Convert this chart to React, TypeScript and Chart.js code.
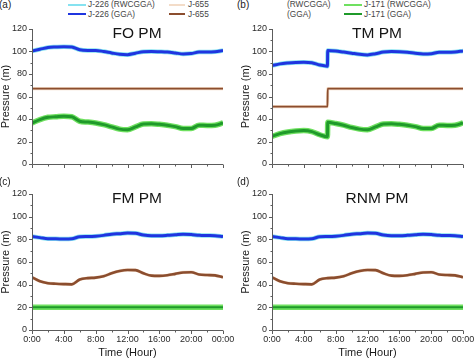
import React, { useEffect, useRef } from 'react';
import { Chart, registerables } from 'chart.js';

Chart.register(...registerables);

// ---------- data ----------
const HOURS = [0, 1, 2, 3, 4, 5, 6, 7, 8, 9, 10, 11, 12, 13, 14, 15, 16, 17, 18, 19, 20, 21, 22, 23, 24];
const HOURS_TM = [0, 1, 2, 3, 4, 5, 6, 6.97, 7, 8, 9, 10, 11, 12, 13, 14, 15, 16, 17, 18, 19, 20, 21, 22, 23, 24];

// (a) FO PM
const FO_J226 = [100.5, 102, 103.5, 104, 104.3, 104, 101.5, 101, 101, 100, 98.7, 97.5, 97.2, 98.5, 99.8, 100, 99.8, 99.5, 98.7, 97.8, 98.2, 99.5, 99.5, 99.8, 100.8];
const FO_J655 = [67, 67, 67, 67, 67, 67, 67, 67, 67, 67, 67, 67, 67, 67, 67, 67, 67, 67, 67, 67, 67, 67, 67, 67, 67];
const FO_J171 = [36.5, 39.5, 41.5, 42, 42.5, 42, 38, 37.3, 36.5, 35, 33, 31, 30.5, 33, 35.5, 35.8, 35.3, 34.5, 33.2, 31.5, 31.5, 34.5, 34.3, 34.5, 36.5];

// (b) TM PM
const TM_J226 = [87.5, 89, 89.8, 90.3, 90.5, 90, 88, 87, 101, 100.5, 99.5, 98.5, 97.5, 97, 98, 99.5, 100, 99.8, 99.3, 98.5, 97.8, 98, 99.3, 99.3, 99.6, 100.5];
const TM_J655 = [51, 51, 51, 51, 51, 51, 51, 51, 67, 67, 67, 67, 67, 67, 67, 67, 67, 67, 67, 67, 67, 67, 67, 67, 67, 67];
const TM_J171 = [24.5, 27, 28.5, 29.3, 29.7, 28.8, 26, 24.3, 37, 36, 34.5, 32.5, 31, 30.5, 33, 35.5, 35.8, 35.3, 34.5, 33.2, 31.5, 31.5, 34.5, 34.3, 34.5, 36.5];

// (c) FM PM
const FM_J226 = [82.5, 81.5, 80.5, 80.5, 80.3, 80.5, 82.3, 82.5, 82.8, 83.5, 84.5, 85, 85.5, 85.3, 83.8, 83.2, 83.2, 83.5, 84, 84.5, 84.3, 83.5, 83.3, 83.2, 82.5];
const FM_J655 = [46.5, 43, 41.3, 40.8, 40.5, 40.3, 44.5, 45.8, 46.2, 47.5, 50, 52, 53, 52.8, 50, 48, 47.8, 48.3, 49.5, 50.8, 51, 49, 48.5, 48.2, 46.5];
const FM_J171 = [20, 20, 20, 20, 20, 20, 20, 20, 20, 20, 20, 20, 20, 20, 20, 20, 20, 20, 20, 20, 20, 20, 20, 20, 20];

// (d) RNM PM
const RNM_J226 = [82.5, 81.5, 80.5, 80.5, 80.3, 80.5, 82.3, 82.5, 82.8, 83.5, 84.5, 85, 85.5, 85.3, 83.8, 83.2, 83.2, 83.5, 84, 84.5, 84.3, 83.5, 83.3, 83.2, 82.5];
const RNM_J655 = [46.5, 43, 41.3, 40.8, 40.5, 40.3, 44.5, 45.8, 46.2, 47.5, 50, 52, 53, 52.8, 50, 48, 47.8, 48.3, 49.5, 50.8, 51, 49, 48.5, 48.2, 46.5];
const RNM_J171 = [20, 20, 20, 20, 20, 20, 20, 20, 20, 20, 20, 20, 20, 20, 20, 20, 20, 20, 20, 20, 20, 20, 20, 20, 20];

// ticks
const Y_TICKS = [0, 20, 40, 60, 80, 100, 120];
const Y_MINOR = [10, 30, 50, 70, 90, 110];
const X_TICKS = [0, 4, 8, 12, 16, 20, 24];
const X_MINOR = [2, 6, 10, 14, 18, 22];
const X_TICK_LABELS = ['0:00', '4:00', '8:00', '12:00', '16:00', '20:00', '00:00'];

// ---------- style ----------
const FONT = "'Liberation Sans', Arial, Helvetica, sans-serif";
const TEXT = '#2a2a2a';
const AXIS = '#5c5c5c';
const C_CYAN = '#86e2f0';
const C_BLUE = '#1f35e0';
const C_PEACH = '#f3dcc8';
const C_BROWN = '#8b4d2e';
const C_LGREEN = '#6fe060';
const C_DGREEN = '#1f9a2a';

const axesPlugin = {
  id: 'axesDraw',
  afterDatasetsDraw(chart: any) {
    const { ctx, chartArea: a, scales } = chart;
    const xs = scales.x;
    const ys = scales.y;
    const L = Math.round(a.left) + 0.5;
    const B = Math.round(a.bottom) + 0.5;
    ctx.save();
    ctx.strokeStyle = AXIS;
    ctx.lineWidth = 1;
    ctx.beginPath();
    ctx.moveTo(L, a.top);
    ctx.lineTo(L, B);
    ctx.lineTo(a.right, B);
    Y_TICKS.forEach((v) => {
      const p = Math.round(ys.getPixelForValue(v)) + 0.5;
      ctx.moveTo(L - 3.5, p);
      ctx.lineTo(L, p);
    });
    Y_MINOR.forEach((v) => {
      const p = Math.round(ys.getPixelForValue(v)) + 0.5;
      ctx.moveTo(L - 2, p);
      ctx.lineTo(L, p);
    });
    X_TICKS.forEach((v) => {
      const p = Math.round(xs.getPixelForValue(v)) + 0.5;
      ctx.moveTo(p, B);
      ctx.lineTo(p, B + 3.5);
    });
    X_MINOR.forEach((v) => {
      const p = Math.round(xs.getPixelForValue(v)) + 0.5;
      ctx.moveTo(p, B);
      ctx.lineTo(p, B + 2);
    });
    ctx.stroke();
    ctx.restore();
  },
};

const panelTitlePlugin = {
  id: 'panelTitle',
  afterDraw(chart: any, _args: any, opts: any) {
    if (!opts || !opts.text) return;
    const { ctx, chartArea: a } = chart;
    ctx.save();
    ctx.font = `15.5px ${FONT}`;
    ctx.fillStyle = '#151515';
    ctx.textAlign = 'center';
    ctx.textBaseline = 'middle';
    ctx.fillText(opts.text, a.left + (a.right - a.left) * 0.55, a.top + 4.5);
    ctx.restore();
  },
};

function pts(xs: number[], ys: number[]) {
  return ys.map((y, i) => ({ x: xs[i], y }));
}

function line(label: string, xs: number[], ys: number[], color: string, width: number) {
  return {
    label,
    data: pts(xs, ys),
    borderColor: color,
    backgroundColor: color,
    borderWidth: width,
    pointRadius: 0,
    cubicInterpolationMode: 'monotone',
    fill: false,
  };
}

type PanelDef = {
  title: string;
  hours: number[];
  j226: number[];
  j655: number[];
  j171: number[];
  showX: boolean;
  topPad: number;
  xh: number;
  thick: boolean;
};

function makeConfig(p: PanelDef): any {
  return {
    type: 'line',
    data: {
      datasets: [
        line('J-226 (GGA)', p.hours, p.j226, C_BLUE, p.thick ? 3 : 3),
        line('J-655 (GGA)', p.hours, p.j655, C_BROWN, p.thick ? 2.6 : 1.8),
        line('J-171 (GGA)', p.hours, p.j171, C_DGREEN, p.thick ? 2 : 3),
        line('J-226 (RWCGGA)', p.hours, p.j226, C_CYAN, 4.5),
        line('J-655 (RWCGGA)', p.hours, p.j655, C_PEACH, 3.2),
        line('J-171 (RWCGGA)', p.hours, p.j171, C_LGREEN, 5.5),
      ],
    },
    options: {
      responsive: false,
      animation: false,
      devicePixelRatio: 1,
      layout: { padding: { left: 0, top: p.topPad, right: 11, bottom: 0 } },
      plugins: {
        legend: { display: false },
        tooltip: { enabled: false },
        title: { display: false },
        panelTitle: { text: p.title },
      },
      scales: {
        x: {
          type: 'linear',
          min: 0,
          max: 24,
          afterBuildTicks: (s: any) => {
            s.ticks = X_TICKS.map((v) => ({ value: v }));
          },
          ticks: {
            display: p.showX,
            autoSkip: false,
            maxRotation: 0,
            minRotation: 0,
            padding: 4,
            color: TEXT,
            font: { family: FONT, size: 9 },
            callback: (_v: any, i: number) => X_TICK_LABELS[i],
          },
          grid: { display: false, drawTicks: false },
          border: { display: false },
          title: {
            display: p.showX,
            text: 'Time (Hour)',
            color: '#1a1a1a',
            font: { family: FONT, size: 11 },
            padding: { top: 0, bottom: 3 },
          },
          afterFit: (s: any) => {
            s.height = p.xh;
            s.paddingLeft = 0;
            s.paddingRight = 0;
          },
        },
        y: {
          type: 'linear',
          min: 0,
          max: 120,
          afterBuildTicks: (s: any) => {
            s.ticks = Y_TICKS.map((v) => ({ value: v }));
          },
          ticks: {
            padding: 5,
            color: TEXT,
            font: { family: FONT, size: 9 },
          },
          grid: { display: false, drawTicks: false },
          border: { display: false },
          title: {
            display: true,
            text: 'Pressure (m)',
            color: '#1a1a1a',
            font: { family: FONT, size: 11, lineHeight: 1 },
            padding: { top: 0, bottom: 0 },
          },
          afterFit: (s: any) => {
            s.width = 32;
            s.paddingTop = 0;
            s.paddingBottom = 0;
          },
        },
      },
    },
    plugins: [axesPlugin, panelTitlePlugin],
  };
}

function Panel({ left, top, width, height, def }: { left: number; top: number; width: number; height: number; def: PanelDef }) {
  const ref = useRef<HTMLCanvasElement | null>(null);
  useEffect(() => {
    if (!ref.current) return;
    const chart = new Chart(ref.current, makeConfig(def));
    return () => chart.destroy();
  }, []);
  return (
    <canvas
      ref={ref}
      width={width}
      height={height}
      style={{ position: 'absolute', left, top, width, height, display: 'block' }}
    />
  );
}

const txt = (s: string, left: number, cy: number, size: number, color = '#444') => (
  <div
    key={s + left + cy}
    style={{
      position: 'absolute',
      left,
      top: cy - size / 2,
      fontSize: size,
      lineHeight: `${size}px`,
      fontFamily: FONT,
      color,
      whiteSpace: 'nowrap',
    }}
  >
    {s}
  </div>
);

const swatch = (x1: number, x2: number, cy: number, color: string) => (
  <div
    key={'sw' + x1 + cy}
    style={{ position: 'absolute', left: x1, top: cy - 1, width: x2 - x1, height: 2, background: color }}
  />
);

export default function App() {
  const panelA: PanelDef = { title: 'FO PM', hours: HOURS, j226: FO_J226, j655: FO_J655, j171: FO_J171, showX: false, topPad: 9, xh: 18, thick: false };
  const panelB: PanelDef = { title: 'TM PM', hours: HOURS_TM, j226: TM_J226, j655: TM_J655, j171: TM_J171, showX: false, topPad: 9, xh: 18, thick: false };
  const panelC: PanelDef = { title: 'FM PM', hours: HOURS, j226: FM_J226, j655: FM_J655, j171: FM_J171, showX: true, topPad: 12, xh: 33, thick: true };
  const panelD: PanelDef = { title: 'RNM PM', hours: HOURS, j226: RNM_J226, j655: RNM_J655, j171: RNM_J171, showX: true, topPad: 12, xh: 33, thick: true };

  return (
    <div style={{ position: 'absolute', left: 0, top: 0, width: 474, height: 363, overflow: 'hidden', background: '#fff' }}>
      <Panel left={0} top={20} width={234} height={162} def={panelA} />
      <Panel left={240} top={20} width={234} height={162} def={panelB} />
      <Panel left={0} top={182} width={234} height={181} def={panelC} />
      <Panel left={240} top={182} width={234} height={181} def={panelD} />

      {/* legend */}
      {swatch(68, 86, 4.5, C_CYAN)}
      {txt('J-226 (RWCGGA)', 88, 4.5, 8.3)}
      {swatch(68, 86, 14, C_BLUE)}
      {txt('J-226 (GGA)', 88, 14, 8.3)}
      {swatch(169, 185, 4.5, C_PEACH)}
      {txt('J-655', 188, 4.5, 8.3)}
      {swatch(169, 185, 14, C_BROWN)}
      {txt('J-655', 188, 14, 8.3)}
      {txt('(RWCGGA)', 287, 4.5, 8.3)}
      {txt('(GGA)', 287, 14, 8.3)}
      {swatch(344, 362, 4.5, C_LGREEN)}
      {txt('J-171 (RWCGGA)', 364, 4.5, 8.3)}
      {swatch(344, 362, 14, C_DGREEN)}
      {txt('J-171 (GGA)', 364, 14, 8.3)}

      {/* panel letters */}
      {txt('(a)', -1, 5, 10, '#222')}
      {txt('(b)', 237, 5, 10, '#222')}
      {txt('(c)', -1, 182, 10, '#222')}
      {txt('(d)', 237, 182, 10, '#222')}
    </div>
  );
}
